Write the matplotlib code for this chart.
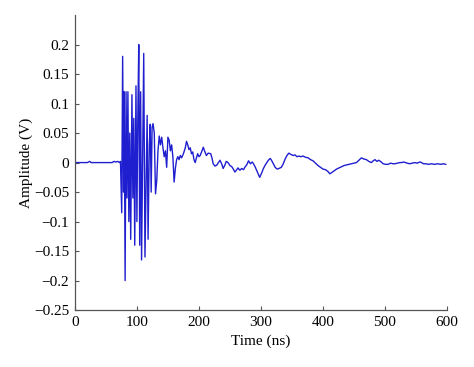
import matplotlib
matplotlib.use("Agg")
import matplotlib.pyplot as plt

# Time axis (ns) and amplitude (V)
time_ns = [
    0, 10, 20, 24, 26, 30, 45, 60, 63, 66, 69, 72,
    73.5, 75.5, 77, 78.5, 79.5, 81, 82.5, 84, 85.5, 87, 88.5, 90,
    92, 93.5, 95, 96.5, 98.5, 100, 101.5, 103, 104.5, 106, 107.5, 109.5,
    111, 113, 115, 116.5, 118, 120, 121.5, 123, 124.5,
    126, 128, 130, 132, 134, 136, 138, 140, 142, 144, 146, 148, 150,
    152, 154, 156, 158, 160, 162, 164, 166, 168, 170, 172, 175, 178,
    180, 182, 184, 186, 188, 190, 192, 194, 196, 198, 200, 202, 205,
    207, 209, 212, 215, 219, 221, 223, 226, 229, 232, 234, 237, 239,
    242, 244, 247, 250, 253, 256, 258, 261, 263, 266, 269, 272, 274,
    277, 280, 283, 286, 288, 291, 293, 296, 298, 301, 304, 307, 310,
    312, 315, 317, 320, 323, 326, 329, 333, 336, 339, 342, 345, 348,
    352, 355, 358, 361, 364, 368, 372, 376, 380, 384, 388, 392, 396,
    400, 404, 408, 411, 414, 418, 422, 426, 430, 434, 438, 442, 446,
    450, 454, 458, 462, 466, 470, 474, 478, 481, 484, 487, 490, 494,
    497, 501, 505, 509, 513, 516, 520, 524, 527, 530, 533, 536, 540,
    544, 548, 552, 556, 559, 562, 566, 570, 575, 580, 585, 590, 594, 598,
]
amplitude_v = [
    0, 0, 0, 0.002, 0, 0, 0, 0, 0.002, 0.001, 0.002, 0,
    0.002, -0.085, 0.18, -0.05, 0.12, -0.2, 0.12, -0.06, 0.12, -0.1, 0.05, -0.13,
    0.115, -0.06, 0.075, -0.14, 0.13, -0.1, 0.08, 0.2, -0.14, 0.12, -0.165, 0.03,
    0.185, -0.16, -0.02, 0.08, -0.13, 0.03, 0.065, -0.05, 0.06,
    0.066, 0.05, -0.053, -0.03, 0.02, 0.045, 0.03, 0.043, 0.025, 0.01, 0.02, -0.008, 0.043,
    0.038, 0.02, 0.03, 0.01, -0.033, -0.01, 0.005, 0.01, 0.005, 0.012, 0.008, 0.015, 0.025,
    0.036, 0.03, 0.022, 0.025, 0.015, 0.018, 0.005, 0.0, 0.008, 0.015, 0.01, 0.012, 0.02,
    0.026, 0.02, 0.012, 0.016, 0.015, 0.008, -0.002, -0.006, -0.004, 0.001, 0.004, -0.003, -0.01,
    -0.004, 0.002, 0.0, -0.005, -0.007, -0.012, -0.016, -0.012, -0.009, -0.013, -0.01, -0.012, -0.008,
    -0.004, 0.003, -0.002, 0.001, -0.002, -0.008, -0.013, -0.02, -0.025, -0.018, -0.01, -0.004, 0.001,
    0.004, 0.007, 0.004, -0.002, -0.008, -0.011, -0.01, -0.008, -0.002, 0.006, 0.012, 0.016, 0.014,
    0.012, 0.013, 0.01, 0.011, 0.01, 0.011, 0.009, 0.008, 0.005, 0.003, -0.001, -0.005, -0.008,
    -0.011, -0.012, -0.015, -0.019, -0.017, -0.014, -0.011, -0.009, -0.007, -0.005, -0.004, -0.003, -0.002,
    -0.001, 0.0, 0.004, 0.008, 0.006, 0.005, 0.002, 0.0, 0.003, 0.005, 0.002, 0.004, 0.001,
    -0.002, -0.003, -0.003, -0.001, -0.002, -0.002, -0.001, 0.0, 0.0, 0.001, 0.0, -0.001, -0.002,
    -0.001, 0.0, -0.001, 0.001, 0.0, -0.002, -0.002, -0.003, -0.002, -0.003, -0.002, -0.003, -0.002, -0.003,
]

x_ticks = [0, 100, 200, 300, 400, 500, 600]
y_ticks = [-0.25, -0.2, -0.15, -0.1, -0.05, 0, 0.05, 0.1, 0.15, 0.2]
y_tick_labels = ["\u22120.25", "\u22120.2", "\u22120.15", "\u22120.1", "\u22120.05",
                 "0", "0.05", "0.1", "0.15", "0.2"]

plt.rcParams["font.family"] = ["Liberation Serif", "DejaVu Serif"]
plt.rcParams["font.size"] = 11

fig = plt.figure(figsize=(4.74, 3.67), dpi=100)
ax = fig.add_axes([0.158, 0.155, 0.785, 0.804])

ax.plot(time_ns, amplitude_v, color="#1f1fd0", linewidth=1.0)

ax.set_xlim(0, 600)
ax.set_ylim(-0.25, 0.25)
ax.set_xticks(x_ticks)
ax.set_yticks(y_ticks)
ax.set_yticklabels(y_tick_labels)
ax.tick_params(direction="in", length=3, width=0.8, color="#555555", pad=4)

ax.spines["top"].set_visible(False)
ax.spines["right"].set_visible(False)
for side in ("left", "bottom"):
    ax.spines[side].set_color("#555555")
    ax.spines[side].set_linewidth(0.9)

ax.set_xlabel("Time (ns)", labelpad=4)
ax.set_ylabel("Amplitude (V)", labelpad=1)

fig.savefig("out.png", dpi=100)
